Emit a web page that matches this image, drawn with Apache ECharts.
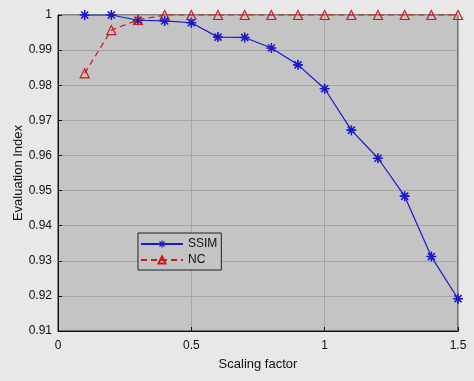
<!DOCTYPE html>
<html><head><meta charset="utf-8">
<script src="https://cdn.jsdelivr.net/npm/echarts@6/dist/echarts.min.js"></script>
<style>html,body{margin:0;padding:0;background:#e8e8e8}#c{width:474px;height:381px}</style>
</head><body><div id="c"></div>
<script>
const scaling = [0.1,0.2,0.3,0.4,0.5,0.6,0.7,0.8,0.9,1.0,1.1,1.2,1.3,1.4,1.5];
const ssim = [1.0,1.0,0.9985,0.9983,0.9978,0.9937,0.9936,0.9906,0.9858,0.9790,0.9672,0.9592,0.9484,0.9312,0.9192];
const nc = [0.9834,0.9957,0.9986,1.0,1.0,1.0,1.0,1.0,1.0,1.0,1.0,1.0,1.0,1.0,1.0];
const xTicks = [0,0.5,1,1.5];
const seriesNames = ['SSIM','NC'];

const star = 'path://M-0.8,-5L0.8,-5L0.8,5L-0.8,5Z M-5,-0.8L5,-0.8L5,0.8L-5,0.8Z M-4.1,-2.97L-2.97,-4.1L4.1,2.97L2.97,4.1Z M2.97,-4.1L4.1,-2.97L-2.97,4.1L-4.1,2.97Z';
const font = 'Liberation Sans, Arial, sans-serif';
const chart = echarts.init(document.getElementById('c'));
chart.setOption({
  backgroundColor: '#e8e8e8',
  animation: false,
  grid: {left: 58, right: 16, top: 15, bottom: 50, show: true, backgroundColor: '#c4c4c4', borderColor: '#222', borderWidth: 1, outerBoundsMode: 'none', containLabel: false},
  legend: {
    orient: 'vertical', left: 138, top: 233, itemWidth: 42, itemHeight: 9, itemGap: 4,
    padding: [5, 4, 4, 2], backgroundColor: '#c4c4c4', borderColor: '#222', borderWidth: 1,
    textStyle: {fontFamily: font, fontSize: 12, color: '#111'},
    data: seriesNames
  },
  xAxis: {
    type: 'value', min: 0, max: 1.5, interval: 0.5,
    name: 'Scaling factor', nameLocation: 'middle', nameGap: 27, nameMoveOverlap: false,
    nameTextStyle: {fontFamily: font, fontSize: 13, color: '#111'},
    axisLine: {show: true, lineStyle: {color: '#111'}},
    axisTick: {show: true, inside: true, length: 4, lineStyle: {color: '#111'}},
    axisLabel: {fontFamily: font, fontSize: 12, color: '#111', margin: 9, formatter: v => xTicks.includes(v) ? String(v) : ''},
    splitLine: {show: true, lineStyle: {color: '#a4a4a4', width: 1}}
  },
  yAxis: {
    type: 'value', min: 0.91, max: 1, interval: 0.01,
    name: 'Evaluation Index', nameLocation: 'middle', nameGap: 33, nameMoveOverlap: false,
    nameTextStyle: {fontFamily: font, fontSize: 13, color: '#111'},
    axisLine: {show: true, lineStyle: {color: '#111'}},
    axisTick: {show: true, inside: true, length: 4, lineStyle: {color: '#111'}},
    axisLabel: {fontFamily: font, fontSize: 12, color: '#111', margin: 6, formatter: v => String(+v.toFixed(2))},
    splitLine: {show: true, lineStyle: {color: '#a4a4a4', width: 1}}
  },
  series: [
    {
      name: 'SSIM', type: 'line', data: scaling.map((x,i)=>[x, ssim[i]]),
      symbol: star, symbolSize: 10, showAllSymbol: true,
      lineStyle: {color: '#1a1acc', width: 1.2},
      itemStyle: {color: '#1a1acc'}, z: 3
    },
    {
      name: 'NC', type: 'line', data: scaling.map((x,i)=>[x, nc[i]]),
      symbol: 'triangle', symbolSize: 9, showAllSymbol: true, clip: false,
      lineStyle: {color: '#cc1a1a', width: 1.2, type: [6,4]},
      itemStyle: {color: 'rgba(0,0,0,0)', borderColor: '#cc1a1a', borderWidth: 1.2}, z: 4
    }
  ]
});
</script></body></html>
